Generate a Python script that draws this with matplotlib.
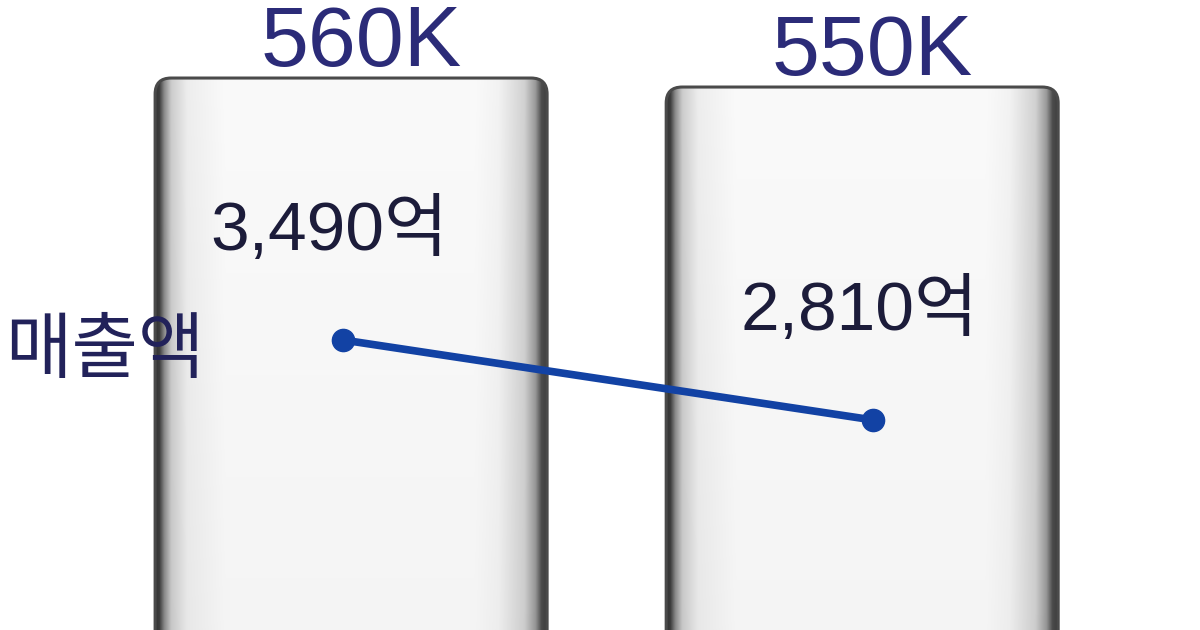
"""
판매량(K) 막대 + 매출액(억) 꺾은선 - 두 기간 비교
"""

import matplotlib
matplotlib.use('Agg')
import matplotlib.pyplot as plt
from matplotlib.patches import FancyBboxPatch
import numpy as np

# 데이터
periods = ['전기', '당기']
units_k = [560, 550]            # 막대: 판매량 (K)
sales = [3490, 2810]            # 꺾은선: 매출액 (억)
unit_labels = ['560K', '550K']
sales_labels = ['3,490억', '2,810억']
series_name = '매출액'

FONT_NUM = ['Liberation Sans', 'Noto Sans CJK KR', 'DejaVu Sans']
FONT_KR = ['Noto Sans CJK KR', 'DejaVu Sans']

NAVY = '#2b2b78'
DARK = '#1c1c3a'
LINE = '#1242a4'

W_PX, H_PX = 1200, 630
fig = plt.figure(figsize=(W_PX / 100, H_PX / 100), dpi=100)
fig.patch.set_facecolor('white')
ax = fig.add_axes([0, 0, 1, 1])
ax.set_xlim(-0.687, 1.661)
ax.set_ylim(-53.3, 646.7)
ax.axis('off')

x = np.arange(len(periods))
bar_w = 0.767
base = -150   # 막대는 화면 아래로 잘려 있음

# 데이터 단위 <-> 픽셀 변환 (둥근 모서리/그라데이션용)
px_x = W_PX / (ax.get_xlim()[1] - ax.get_xlim()[0])
px_y = H_PX / (ax.get_ylim()[1] - ax.get_ylim()[0])
aspect = px_x / px_y


def shade_profile(n, w_px):
    d = np.linspace(0, w_px, n)
    dr = w_px - d
    left = np.interp(d, [0, 4, 9, 16, 32, 70], [0.20, 0.24, 0.55, 0.80, 0.93, 0.98])
    right = np.interp(dr, [0, 5, 11, 22, 48, 80], [0.25, 0.30, 0.60, 0.82, 0.95, 0.99])
    return np.minimum(left, right)


for xi, val in zip(x, units_k):
    x0 = xi - bar_w / 2
    patch = FancyBboxPatch((x0, base), bar_w, val - base,
                           boxstyle='round,pad=0,rounding_size=%f' % (16 / px_x),
                           mutation_aspect=aspect,
                           facecolor='none', edgecolor='#4a4a4a', linewidth=2.2,
                           zorder=3)
    ax.add_patch(patch)

    prof = shade_profile(400, bar_w * px_x)
    vert = np.linspace(1.0, 0.975, 200)[:, None]
    img = np.clip(prof[None, :] * vert, 0, 1)
    rgb = np.dstack([img, img, img])
    im = ax.imshow(rgb, extent=(x0, x0 + bar_w, base, val), origin='upper',
                   aspect='auto', interpolation='bilinear', zorder=2)
    im.set_clip_path(patch)

# 막대 위 판매량 라벨
for xi, val, lab in zip(x, units_k, unit_labels):
    ax.annotate(lab, (xi, val), xytext=(7, 9), textcoords='offset points',
                ha='center', va='baseline', fontsize=62, color=NAVY,
                family=FONT_NUM, zorder=5)

# 매출액 꺾은선 (보조축, 가로 위치가 막대와 살짝 다름)
ax2 = fig.add_axes([0, 0, 1, 1], sharex=None)
ax2.patch.set_visible(False)
ax2.set_xlim(-0.647, 1.617)
ax2.set_ylim(1024, 6381)
ax2.axis('off')
ax2.plot(x, sales, color=LINE, linewidth=5.5, marker='o', markersize=16,
         markerfacecolor=LINE, markeredgecolor=LINE, zorder=6,
         solid_capstyle='round')

for xi, val, lab in zip(x, sales, sales_labels):
    ax2.annotate(lab, (xi, val), xytext=(-9.5, 65), textcoords='offset points',
                 ha='center', va='baseline', fontsize=50, color=DARK,
                 family=FONT_NUM, zorder=7)

# 시리즈 이름
ax2.annotate(series_name, (x[0], sales[0]), xycoords='data',
             xytext=(5, -8), textcoords=('figure pixels', 'offset points'),
             ha='left', va='center', fontsize=52, color='#22225a',
             family=FONT_KR, zorder=7)

fig.savefig('out.png', dpi=100, facecolor='white')
plt.close(fig)
